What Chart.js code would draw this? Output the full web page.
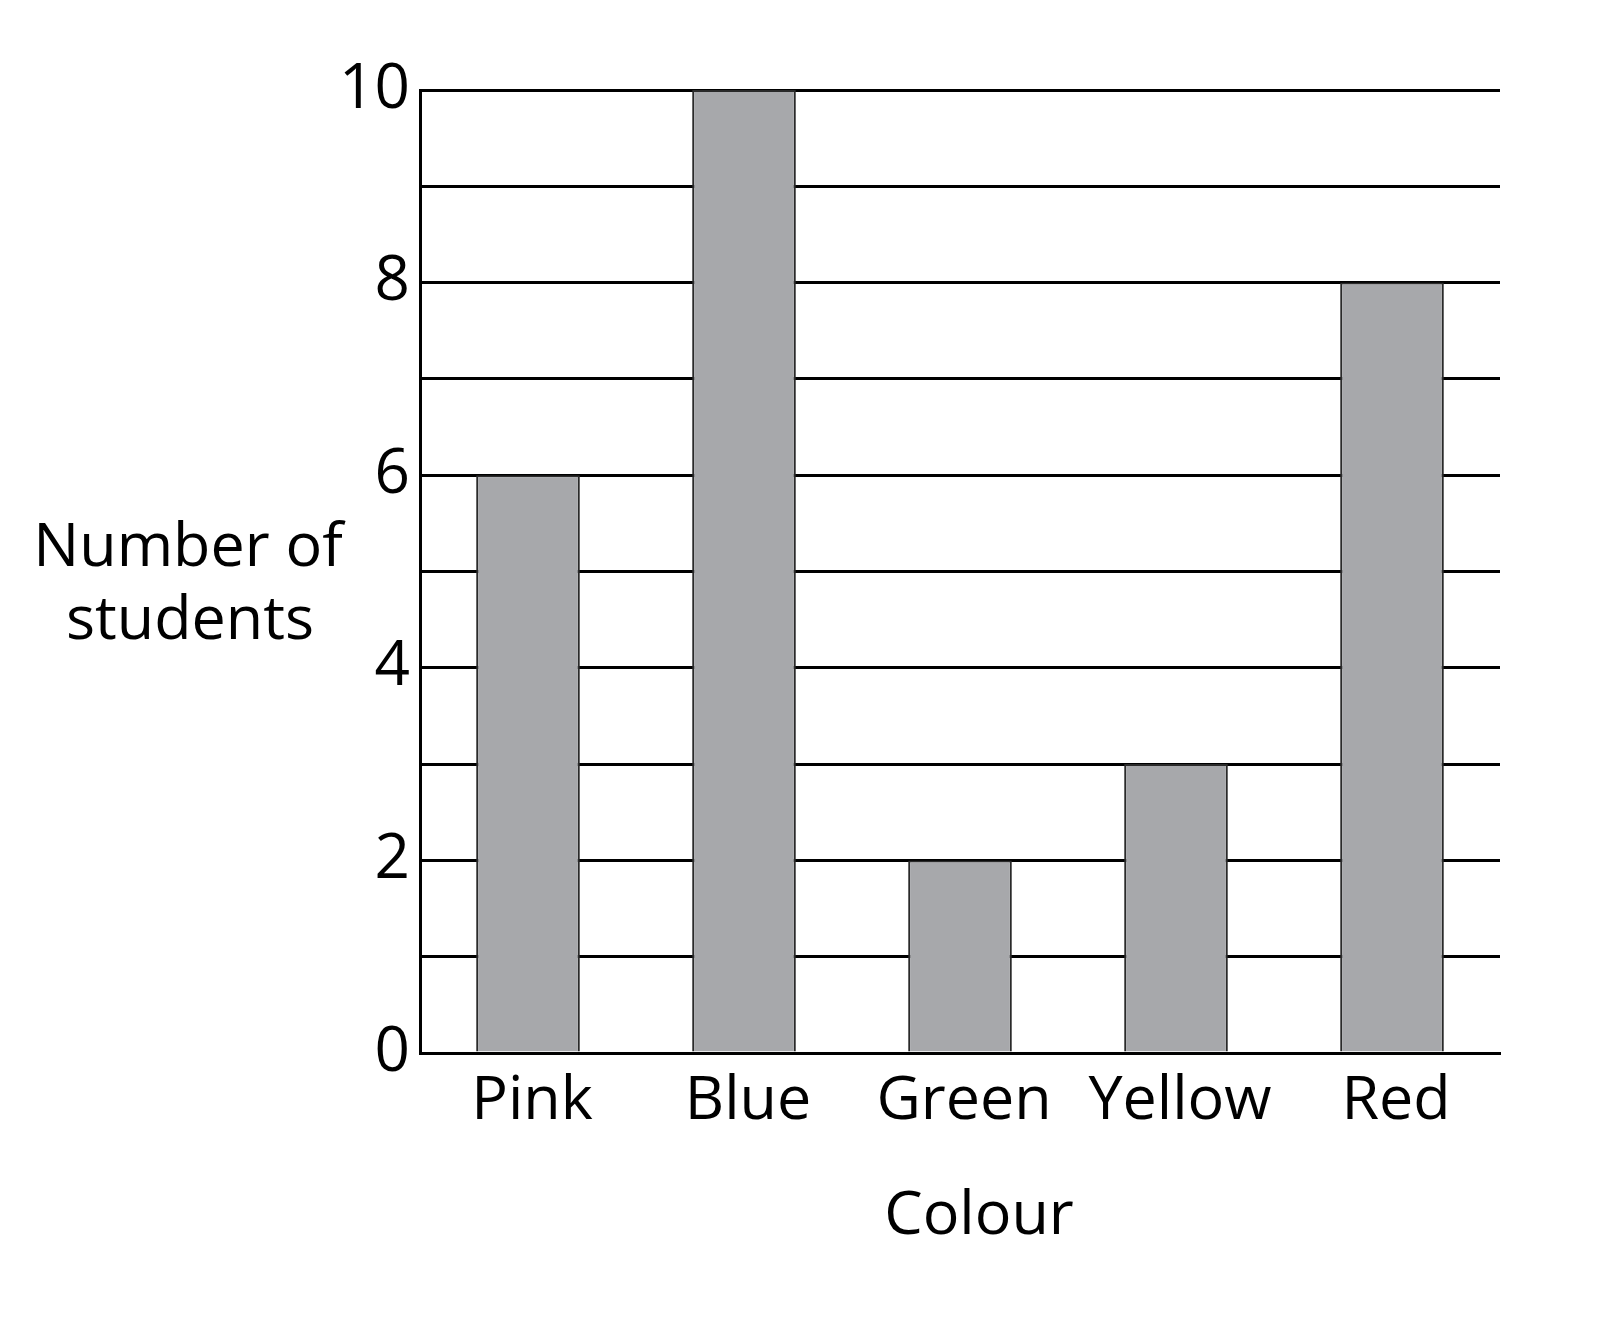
<!DOCTYPE html>
<html>
<head>
<meta charset="utf-8">
<script src="https://cdn.jsdelivr.net/npm/chart.js@4/dist/chart.umd.min.js"></script>
<style>
  html, body { margin: 0; padding: 0; background: #fff; }
  #graficoCores { display: block; }
</style>
</head>
<body>
<canvas id="graficoCores" width="1600" height="1324"></canvas>
<script>
// * Dados do gráfico
var cores = ["Pink", "Blue", "Green", "Yellow", "Red"];
var alunos = [6, 10, 2, 3, 8];
var rotulosY = [0, 2, 4, 6, 8, 10];
var tituloX = "Colour";
var tituloY = ["Number of", "students"];

var fonte = "'Open Sans', 'Noto Sans', sans-serif";

// > Os títulos dos eixos são desenhados à mão: o do Y fica na horizontal, em duas linhas,
// > e o do X fica um pouco à direita do centro, como no original
var titulosEixos = {
    id: 'titulosEixos',
    afterDraw: function (chart) {
        var ctx = chart.ctx;
        var area = chart.chartArea;
        var meio = chart.scales.y.getPixelForValue(5);
        ctx.save();
        ctx.font = "61px " + fonte;
        ctx.fillStyle = "#000";
        ctx.textAlign = "center";
        ctx.textBaseline = "alphabetic";
        ctx.fillText(tituloY[0], 188, meio - 6);
        ctx.fillText(tituloY[1], 190, meio + 67);
        ctx.textBaseline = "middle";
        ctx.fillText(tituloX, (area.left + area.right) / 2 + 19, area.bottom + 164);
        ctx.restore();
    }
};

var ctx = document.getElementById("graficoCores").getContext("2d");
var myChart = new Chart(ctx, {
    type: "bar",
    data: {
        labels: cores,
        datasets: [{
            data: alunos,
            backgroundColor: "#a7a8ab",
            borderColor: "#2a2a2a",
            borderWidth: 2,
            barPercentage: 0.48,
            categoryPercentage: 1
        }]
    },
    options: {
        responsive: false,
        devicePixelRatio: 1,
        animation: false,
        layout: {
            padding: { left: 0, right: 100, top: 90, bottom: 70 }
        },
        plugins: {
            legend: { display: false },
            tooltip: { enabled: false }
        },
        scales: {
            x: {
                grid: { display: false, drawTicks: false },
                border: { display: true, color: "#000", width: 3 },
                ticks: {
                    color: "#000",
                    font: { family: fonte, size: 61 },
                    padding: 12,
                    labelOffset: 4,
                    maxRotation: 0
                },
                afterFit: function (scale) { scale.height = 1324 - 70 - 1053; }
            },
            y: {
                min: 0,
                max: 10,
                grid: { color: "#000", lineWidth: 3, drawTicks: false },
                border: { display: true, color: "#000", width: 3 },
                ticks: {
                    stepSize: 1,
                    color: "#000",
                    font: { family: fonte, size: 62 },
                    padding: 10,
                    // ? Só os números pares têm rótulo
                    callback: function (v) { return rotulosY.indexOf(v) >= 0 ? String(v) : ""; }
                },
                afterFit: function (scale) { scale.width = 420; }
            }
        }
    },
    plugins: [titulosEixos]
});
</script>
</body>
</html>
